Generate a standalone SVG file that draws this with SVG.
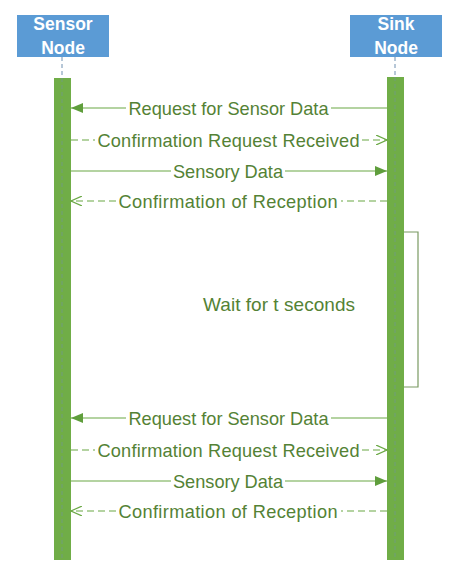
<svg xmlns="http://www.w3.org/2000/svg" width="458" height="586" viewBox="0 0 458 586">
<defs>
<marker id="filled" viewBox="0 0 12 10" refX="12" refY="5" markerWidth="12" markerHeight="10" markerUnits="userSpaceOnUse" orient="auto">
<path d="M0,0 L12,5 L0,10 Z" fill="#5f9e3c"/>
</marker>
<marker id="open" viewBox="0 0 12 10" refX="11" refY="5" markerWidth="12" markerHeight="10" markerUnits="userSpaceOnUse" orient="auto">
<path d="M0,0 L11,5 L0,10" fill="none" stroke="#6aa844" stroke-width="1.2"/>
</marker>
</defs>
<style>
.hdr{fill:#5B9BD5}
.hdrt{font-family:"Liberation Sans",Arial,sans-serif;font-weight:bold;font-size:17.5px;fill:#ffffff;text-anchor:middle}
.bar{fill:#70AD47}
.life{stroke:#6f8fb0;stroke-width:1;stroke-dasharray:4,3;fill:none}
.msg{stroke:#6aa844;stroke-width:1.2;fill:none}
.dash{stroke-dasharray:7,4}
.lbl{font-family:"Liberation Sans",Arial,sans-serif;font-size:18.2px;fill:#548235;text-anchor:middle}
.wait{font-size:19px}
.loop{stroke:#7a9a62;stroke-width:1.2;fill:none}
</style>
<rect width="458" height="586" fill="#ffffff"/>
<g id="sensor-node">
<rect class="hdr" x="17" y="15" width="92" height="42"/>
<text class="hdrt" x="63" y="30">Sensor</text>
<text class="hdrt" x="63" y="54">Node</text>
<line class="life" x1="62" y1="57" x2="62" y2="78"/>
<rect class="bar" x="54" y="78" width="17" height="482"/>
<line class="life" x1="62" y1="78" x2="62" y2="560" stroke-opacity="0.5"/>
</g>
<g id="sink-node">
<rect class="hdr" x="350" y="15" width="92" height="42"/>
<text class="hdrt" x="396" y="30">Sink</text>
<text class="hdrt" x="396" y="54">Node</text>
<line class="life" x1="395" y1="57" x2="395" y2="77"/>
<polyline class="loop" points="395,232 418,232 418,387 395,387"/>
<rect class="bar" x="387" y="77" width="17" height="483"/>
<line class="life" x1="395" y1="77" x2="395" y2="560" stroke-opacity="0.5"/>
</g>
<g id="connectors">
<line class="msg" x1="387" y1="108" x2="331" y2="108"/>
<line class="msg" x1="126" y1="108" x2="71" y2="108" marker-end="url(#filled)"/>
<line class="msg dash" x1="71" y1="140" x2="95" y2="140"/>
<line class="msg dash" x1="362" y1="140" x2="387" y2="140" marker-end="url(#open)"/>
<line class="msg" x1="71" y1="171" x2="171" y2="171"/>
<line class="msg" x1="285" y1="171" x2="387" y2="171" marker-end="url(#filled)"/>
<line class="msg dash" x1="387" y1="201" x2="341" y2="201"/>
<line class="msg dash" x1="116" y1="201" x2="71" y2="201" marker-end="url(#open)"/>

<line class="msg" x1="387" y1="418" x2="331" y2="418"/>
<line class="msg" x1="126" y1="418" x2="71" y2="418" marker-end="url(#filled)"/>
<line class="msg dash" x1="71" y1="450" x2="95" y2="450"/>
<line class="msg dash" x1="362" y1="450" x2="387" y2="450" marker-end="url(#open)"/>
<line class="msg" x1="71" y1="481" x2="171" y2="481"/>
<line class="msg" x1="285" y1="481" x2="387" y2="481" marker-end="url(#filled)"/>
<line class="msg dash" x1="387" y1="511" x2="341" y2="511"/>
<line class="msg dash" x1="116" y1="511" x2="71" y2="511" marker-end="url(#open)"/>
</g>
<g id="labels">
<text class="lbl" x="228.5" y="114.5" textLength="200" lengthAdjust="spacing">Request for Sensor Data</text>
<text class="lbl" x="228.5" y="146.5" textLength="262" lengthAdjust="spacing">Confirmation Request Received</text>
<text class="lbl" x="228" y="177.5" textLength="110" lengthAdjust="spacing">Sensory Data</text>
<text class="lbl" x="228" y="207.5" textLength="219" lengthAdjust="spacing">Confirmation of Reception</text>
<text class="lbl wait" x="279" y="310.5" textLength="152" lengthAdjust="spacing">Wait for t seconds</text>
<text class="lbl" x="228.5" y="424.5" textLength="200" lengthAdjust="spacing">Request for Sensor Data</text>
<text class="lbl" x="228.5" y="456.5" textLength="262" lengthAdjust="spacing">Confirmation Request Received</text>
<text class="lbl" x="228" y="487.5" textLength="110" lengthAdjust="spacing">Sensory Data</text>
<text class="lbl" x="228" y="517.5" textLength="219" lengthAdjust="spacing">Confirmation of Reception</text>
</g>
</svg>
